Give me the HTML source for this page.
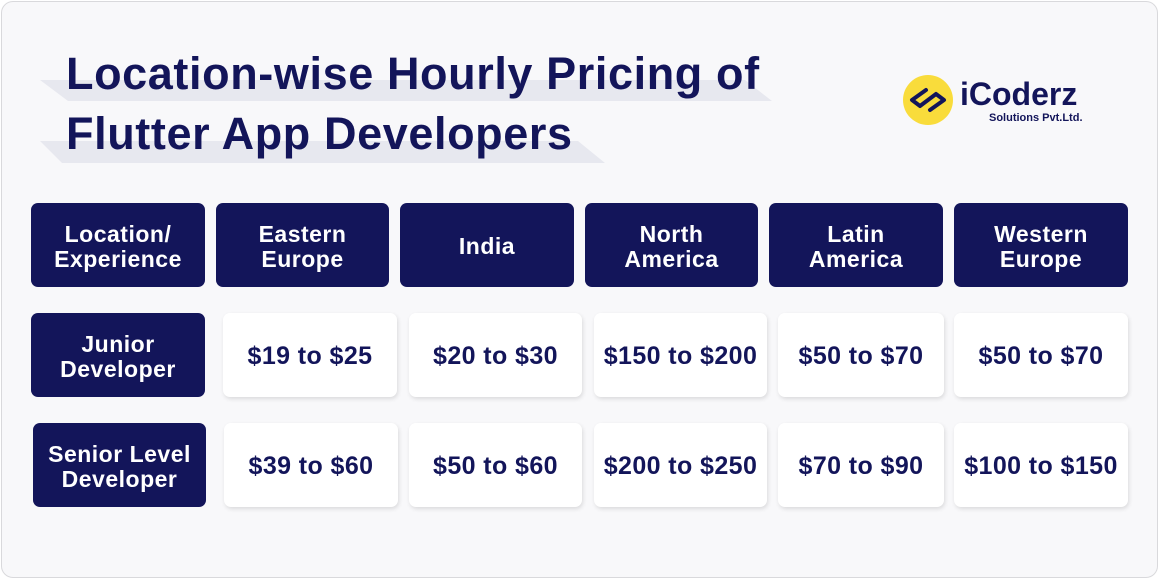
<!DOCTYPE html>
<html><head><style>
*{margin:0;padding:0;box-sizing:border-box}
body{width:1160px;height:580px;background:#fff;font-family:"Liberation Sans",sans-serif;overflow:hidden;position:relative}
.card{position:absolute;left:1px;top:1px;width:1157px;height:577px;border:1px solid #d9d9dc;border-radius:12px;background:#f8f8fa}
.t{position:absolute;left:66px;font-size:45px;font-weight:bold;color:#13155a;white-space:nowrap;letter-spacing:0.6px}
.b{position:absolute;display:flex;align-items:center;justify-content:center;text-align:center;border-radius:7px;font-weight:bold;padding-top:3px}
.h{background:#13155a;color:#fff;font-size:23px;line-height:25px;letter-spacing:0.5px}
.d{background:#fff;color:#13155a;font-size:25px;letter-spacing:0.4px;box-shadow:1px 2px 4px rgba(0,0,0,0.12);white-space:nowrap}
</style></head><body>
<div class="card"></div>
<svg style="position:absolute;left:0;top:0" width="1160" height="580">
<polygon points="40,80 745,80 772,101 68,101" fill="#e7e8ef"/>
<polygon points="40,141 578,141 605,163 62,163" fill="#e7e8ef"/>
<circle cx="928" cy="100" r="25" fill="#f9dc3b"/>
<path d="M926,90 L912,100 L920,106 M930,110 L944,100 L936,94 M920,106 L936,94" stroke="#13155a" stroke-width="4" fill="none" stroke-linecap="round" stroke-linejoin="round"/>
</svg>
<div class="t" style="top:48px">Location-wise Hourly Pricing of</div>
<div class="t" style="top:108px">Flutter App Developers</div>
<div style="position:absolute;left:960px;top:76px;font-size:32px;font-weight:bold;color:#13155a">iCoderz</div>
<div style="position:absolute;left:989px;top:112px;font-size:11px;font-weight:bold;color:#13155a">Solutions Pvt.Ltd.</div>

<div class="b h" style="left:31px;top:203px;width:174px;height:84px">Location/<br>Experience</div>
<div class="b h" style="left:216px;top:203px;width:173px;height:84px">Eastern<br>Europe</div>
<div class="b h" style="left:400px;top:203px;width:174px;height:84px">India</div>
<div class="b h" style="left:585px;top:203px;width:173px;height:84px">North<br>America</div>
<div class="b h" style="left:769px;top:203px;width:174px;height:84px">Latin<br>America</div>
<div class="b h" style="left:954px;top:203px;width:174px;height:84px">Western<br>Europe</div>

<div class="b h" style="left:31px;top:313px;width:174px;height:84px">Junior<br>Developer</div>
<div class="b d" style="left:223px;top:313px;width:174px;height:84px">$19 to $25</div>
<div class="b d" style="left:409px;top:313px;width:173px;height:84px">$20 to $30</div>
<div class="b d" style="left:594px;top:313px;width:173px;height:84px">$150 to $200</div>
<div class="b d" style="left:778px;top:313px;width:166px;height:84px">$50 to $70</div>
<div class="b d" style="left:954px;top:313px;width:174px;height:84px">$50 to $70</div>

<div class="b h" style="left:33px;top:423px;width:173px;height:84px">Senior Level<br>Developer</div>
<div class="b d" style="left:224px;top:423px;width:174px;height:84px">$39 to $60</div>
<div class="b d" style="left:409px;top:423px;width:173px;height:84px">$50 to $60</div>
<div class="b d" style="left:594px;top:423px;width:173px;height:84px">$200 to $250</div>
<div class="b d" style="left:778px;top:423px;width:166px;height:84px">$70 to $90</div>
<div class="b d" style="left:954px;top:423px;width:174px;height:84px">$100 to $150</div>
</body></html>
